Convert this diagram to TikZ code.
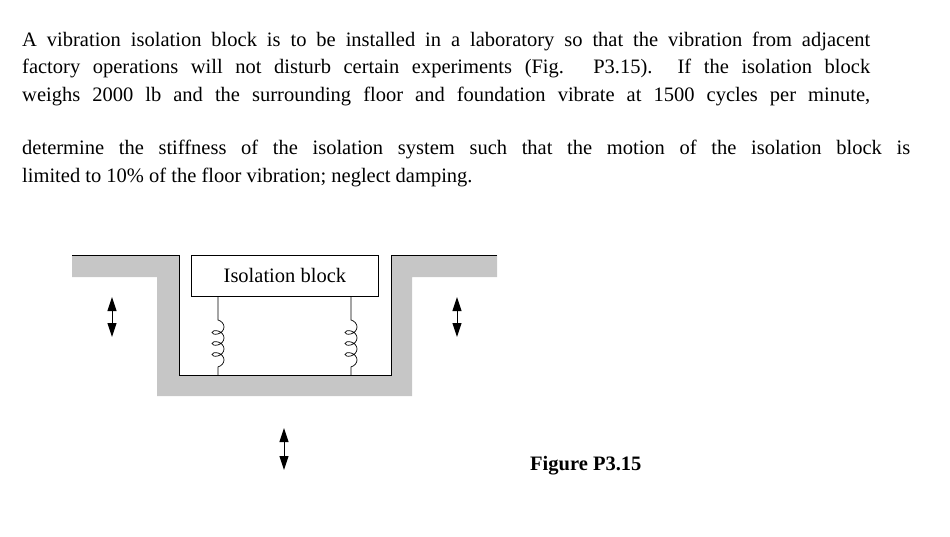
\documentclass[tikz,border=0pt]{standalone}
\usepackage{fontspec}
\setmainfont{Liberation Serif}
\usetikzlibrary{decorations.pathmorphing,arrows.meta}
\begin{document}
\begin{tikzpicture}[x=1pt,y=-1pt,
  txt/.style={anchor=base west,inner sep=0pt,font=\fontsize{20.5}{24}\selectfont},
  vib/.style={arrows={Triangle[length=14pt,width=9pt]-Triangle[length=14pt,width=9pt]},line width=1pt},
  spr/.style={decorate,decoration={coil,aspect=0.7,amplitude=6pt,segment length=11pt,pre length=24pt,post length=8pt}}]
\useasboundingbox (0,0) rectangle (950,536);
\node[txt] (l1) at (22,46) {\makebox[848pt][s]{A vibration isolation block is to be installed in a laboratory so that the vibration from adjacent}};
\node[txt] (l2) at (22,73) {\makebox[848pt][s]{factory operations will not disturb certain experiments (Fig. P3.15).\ \ If the isolation block}};
\node[txt] (l3) at (22,101) {\makebox[848pt][s]{weighs 2000 lb and the surrounding floor and foundation vibrate at 1500 cycles per minute,}};
\node[txt] (l4) at (22,154) {\makebox[888pt][s]{determine the stiffness of the isolation system such that the motion of the isolation block is}};
\node[txt] (l5) at (22,182) {limited to 10\% of the floor vibration; neglect damping.};
\fill[gray!45] (72,255)--(179,255)--(179,375)--(391,375)--(391,255)--(497,255)--(497,277)--(412,277)--(412,396)--(157,396)--(157,277)--(72,277)--cycle;
\draw[line width=0.8pt] (72,255)--(179,255)--(179,375)--(391,375)--(391,255)--(497,255);
\node[draw,line width=0.8pt,fill=white,minimum width=187pt,minimum height=41pt,anchor=north west,font=\fontsize{20.5}{24}\selectfont] (blk) at (191,255) {Isolation block};
\coordinate (s1t) at (218,296); \coordinate (s1b) at (218,375);
\coordinate (s2t) at (351,296); \coordinate (s2b) at (351,375);
\draw[spr,line width=0.7pt] (s1t)--(s1b);
\draw[spr,line width=0.7pt] (s2t)--(s2b);
\coordinate (a1) at (112,297); \coordinate (b1) at (112,337);
\coordinate (a2) at (457,297); \coordinate (b2) at (457,337);
\coordinate (a3) at (284,428); \coordinate (b3) at (284,470);
\draw[vib] (a1)--(b1); \draw[vib] (a2)--(b2); \draw[vib] (a3)--(b3);
\node[txt,font=\fontsize{20.5}{24}\selectfont\bfseries] (cap) at (530,470) {Figure P3.15};
\end{tikzpicture}
\end{document}
